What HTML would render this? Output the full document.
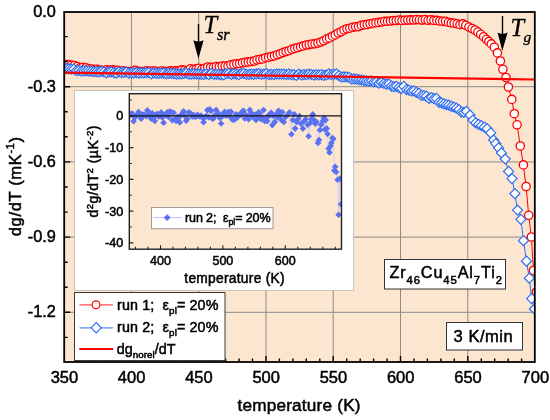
<!DOCTYPE html>
<html><head><meta charset="utf-8"><style>
html,body{margin:0;padding:0;background:#fff;width:550px;height:420px;overflow:hidden}
svg{display:block}
.t{font-family:'Liberation Sans',Arial,Helvetica,sans-serif;fill:#000;stroke:#000;stroke-width:0.5px;white-space:pre}
.s{font-family:'Liberation Serif','Times New Roman',serif;font-style:italic;fill:#000;stroke:#000;stroke-width:0.35px}
</style></head><body>
<svg width="550" height="420" viewBox="0 0 550 420" xml:space="preserve">
<rect x="64.2" y="12.0" width="470.59999999999997" height="350.0" fill="#fce6d0"/>
<line x1="131.4" y1="12.0" x2="131.4" y2="362.0" stroke="#8a8a8a" stroke-width="1"/>
<line x1="198.7" y1="12.0" x2="198.7" y2="362.0" stroke="#8a8a8a" stroke-width="1"/>
<line x1="266.0" y1="12.0" x2="266.0" y2="362.0" stroke="#8a8a8a" stroke-width="1"/>
<line x1="333.2" y1="12.0" x2="333.2" y2="362.0" stroke="#8a8a8a" stroke-width="1"/>
<line x1="400.5" y1="12.0" x2="400.5" y2="362.0" stroke="#8a8a8a" stroke-width="1"/>
<line x1="467.8" y1="12.0" x2="467.8" y2="362.0" stroke="#8a8a8a" stroke-width="1"/>
<line x1="64.2" y1="86.7" x2="534.8" y2="86.7" stroke="#8a8a8a" stroke-width="1"/>
<line x1="64.2" y1="161.9" x2="534.8" y2="161.9" stroke="#8a8a8a" stroke-width="1"/>
<line x1="64.2" y1="237.1" x2="534.8" y2="237.1" stroke="#8a8a8a" stroke-width="1"/>
<line x1="64.2" y1="312.3" x2="534.8" y2="312.3" stroke="#8a8a8a" stroke-width="1"/>
<defs><clipPath id="pc"><rect x="64.2" y="12.0" width="470.6" height="350.0"/></clipPath></defs>
<g clip-path="url(#pc)">
<polyline fill="none" stroke="#ff0000" stroke-width="1" points="59.8,64.0 62.7,64.4 65.6,64.5 68.5,64.6 71.4,65.3 74.3,65.6 77.2,66.6 80.1,67.7 83.0,67.2 85.9,67.7 88.8,68.7 91.7,69.1 94.6,69.5 97.5,69.3 100.4,70.0 103.3,70.6 106.2,69.8 109.1,70.4 112.0,69.9 114.9,70.4 117.8,70.3 120.7,71.2 123.6,70.8 126.5,71.6 129.4,71.6 132.3,71.4 135.2,70.2 138.1,71.2 141.0,71.5 143.9,71.6 146.8,70.7 149.7,71.3 152.6,71.0 155.5,71.1 158.4,72.0 161.3,71.1 164.2,71.4 167.1,71.8 170.0,70.9 172.9,71.0 175.8,70.9 178.7,70.7 181.6,69.9 184.5,70.3 187.4,70.6 190.3,68.8 193.2,69.6 196.1,68.9 199.0,68.3 201.9,69.3 204.8,68.3 207.7,67.1 210.6,67.4 213.5,67.3 216.4,66.6 219.3,66.7 222.2,66.0 225.1,66.0 228.0,66.0 230.9,64.7 233.8,64.4 236.7,63.8 239.6,63.5 242.5,62.7 245.4,62.3 248.3,61.9 251.2,61.5 254.1,61.0 257.0,59.9 259.9,59.3 262.8,58.9 265.7,57.7 268.6,57.2 271.5,56.5 274.4,55.9 277.3,54.8 280.2,53.7 283.1,52.6 286.0,51.5 288.9,50.7 291.8,49.3 294.7,48.4 297.6,47.7 300.5,46.7 303.4,45.9 306.3,45.0 309.2,44.6 312.1,44.0 315.0,43.8 317.9,43.0 320.8,42.0 323.7,40.8 326.6,39.1 329.5,37.9 332.4,36.2 335.3,34.9 338.2,33.0 341.1,31.8 344.0,30.0 346.9,28.8 349.8,28.2 352.7,27.3 355.6,26.8 358.5,26.6 361.4,25.4 364.3,24.8 367.2,24.4 370.1,23.8 373.0,23.2 375.9,22.7 378.8,22.4 381.7,22.0 384.6,21.3 387.5,21.2 390.4,21.0 393.3,20.5 396.2,20.5 399.1,20.1 402.0,20.4 404.9,20.2 407.8,20.1 410.7,19.9 413.6,20.0 416.5,19.6 419.4,19.8 422.3,20.1 425.2,19.6 428.1,20.3 431.0,19.8 433.9,20.4 436.8,20.4 439.7,21.0 442.6,21.2 445.5,21.3 448.4,22.3 451.3,22.9 454.2,23.2 457.1,23.8 460.0,24.7 462.9,23.9 465.7,25.3 468.9,27.1 472.1,28.6 475.0,30.0 477.9,32.1 480.7,34.3 483.6,36.7 486.4,39.3 488.8,41.4 491.3,43.9 494.3,47.2 497.4,52.9 500.4,61.0 502.9,69.3 506.0,77.5 508.4,87.0 511.8,99.4 514.3,113.7 517.1,124.8 520.3,146.0 523.4,164.9 526.1,186.5 528.7,215.3 531.4,237.0 533.5,270.5 536.4,292.0"/>
<circle cx="59.8" cy="64.0" r="4.15" fill="#fff" stroke="#ff0000" stroke-width="1.3"/>
<circle cx="62.7" cy="64.4" r="4.15" fill="#fff" stroke="#ff0000" stroke-width="1.3"/>
<circle cx="65.6" cy="64.5" r="4.15" fill="#fff" stroke="#ff0000" stroke-width="1.3"/>
<circle cx="68.5" cy="64.6" r="4.15" fill="#fff" stroke="#ff0000" stroke-width="1.3"/>
<circle cx="71.4" cy="65.3" r="4.15" fill="#fff" stroke="#ff0000" stroke-width="1.3"/>
<circle cx="74.3" cy="65.6" r="4.15" fill="#fff" stroke="#ff0000" stroke-width="1.3"/>
<circle cx="77.2" cy="66.6" r="4.15" fill="#fff" stroke="#ff0000" stroke-width="1.3"/>
<circle cx="80.1" cy="67.7" r="4.15" fill="#fff" stroke="#ff0000" stroke-width="1.3"/>
<circle cx="83.0" cy="67.2" r="4.15" fill="#fff" stroke="#ff0000" stroke-width="1.3"/>
<circle cx="85.9" cy="67.7" r="4.15" fill="#fff" stroke="#ff0000" stroke-width="1.3"/>
<circle cx="88.8" cy="68.7" r="4.15" fill="#fff" stroke="#ff0000" stroke-width="1.3"/>
<circle cx="91.7" cy="69.1" r="4.15" fill="#fff" stroke="#ff0000" stroke-width="1.3"/>
<circle cx="94.6" cy="69.5" r="4.15" fill="#fff" stroke="#ff0000" stroke-width="1.3"/>
<circle cx="97.5" cy="69.3" r="4.15" fill="#fff" stroke="#ff0000" stroke-width="1.3"/>
<circle cx="100.4" cy="70.0" r="4.15" fill="#fff" stroke="#ff0000" stroke-width="1.3"/>
<circle cx="103.3" cy="70.6" r="4.15" fill="#fff" stroke="#ff0000" stroke-width="1.3"/>
<circle cx="106.2" cy="69.8" r="4.15" fill="#fff" stroke="#ff0000" stroke-width="1.3"/>
<circle cx="109.1" cy="70.4" r="4.15" fill="#fff" stroke="#ff0000" stroke-width="1.3"/>
<circle cx="112.0" cy="69.9" r="4.15" fill="#fff" stroke="#ff0000" stroke-width="1.3"/>
<circle cx="114.9" cy="70.4" r="4.15" fill="#fff" stroke="#ff0000" stroke-width="1.3"/>
<circle cx="117.8" cy="70.3" r="4.15" fill="#fff" stroke="#ff0000" stroke-width="1.3"/>
<circle cx="120.7" cy="71.2" r="4.15" fill="#fff" stroke="#ff0000" stroke-width="1.3"/>
<circle cx="123.6" cy="70.8" r="4.15" fill="#fff" stroke="#ff0000" stroke-width="1.3"/>
<circle cx="126.5" cy="71.6" r="4.15" fill="#fff" stroke="#ff0000" stroke-width="1.3"/>
<circle cx="129.4" cy="71.6" r="4.15" fill="#fff" stroke="#ff0000" stroke-width="1.3"/>
<circle cx="132.3" cy="71.4" r="4.15" fill="#fff" stroke="#ff0000" stroke-width="1.3"/>
<circle cx="135.2" cy="70.2" r="4.15" fill="#fff" stroke="#ff0000" stroke-width="1.3"/>
<circle cx="138.1" cy="71.2" r="4.15" fill="#fff" stroke="#ff0000" stroke-width="1.3"/>
<circle cx="141.0" cy="71.5" r="4.15" fill="#fff" stroke="#ff0000" stroke-width="1.3"/>
<circle cx="143.9" cy="71.6" r="4.15" fill="#fff" stroke="#ff0000" stroke-width="1.3"/>
<circle cx="146.8" cy="70.7" r="4.15" fill="#fff" stroke="#ff0000" stroke-width="1.3"/>
<circle cx="149.7" cy="71.3" r="4.15" fill="#fff" stroke="#ff0000" stroke-width="1.3"/>
<circle cx="152.6" cy="71.0" r="4.15" fill="#fff" stroke="#ff0000" stroke-width="1.3"/>
<circle cx="155.5" cy="71.1" r="4.15" fill="#fff" stroke="#ff0000" stroke-width="1.3"/>
<circle cx="158.4" cy="72.0" r="4.15" fill="#fff" stroke="#ff0000" stroke-width="1.3"/>
<circle cx="161.3" cy="71.1" r="4.15" fill="#fff" stroke="#ff0000" stroke-width="1.3"/>
<circle cx="164.2" cy="71.4" r="4.15" fill="#fff" stroke="#ff0000" stroke-width="1.3"/>
<circle cx="167.1" cy="71.8" r="4.15" fill="#fff" stroke="#ff0000" stroke-width="1.3"/>
<circle cx="170.0" cy="70.9" r="4.15" fill="#fff" stroke="#ff0000" stroke-width="1.3"/>
<circle cx="172.9" cy="71.0" r="4.15" fill="#fff" stroke="#ff0000" stroke-width="1.3"/>
<circle cx="175.8" cy="70.9" r="4.15" fill="#fff" stroke="#ff0000" stroke-width="1.3"/>
<circle cx="178.7" cy="70.7" r="4.15" fill="#fff" stroke="#ff0000" stroke-width="1.3"/>
<circle cx="181.6" cy="69.9" r="4.15" fill="#fff" stroke="#ff0000" stroke-width="1.3"/>
<circle cx="184.5" cy="70.3" r="4.15" fill="#fff" stroke="#ff0000" stroke-width="1.3"/>
<circle cx="187.4" cy="70.6" r="4.15" fill="#fff" stroke="#ff0000" stroke-width="1.3"/>
<circle cx="190.3" cy="68.8" r="4.15" fill="#fff" stroke="#ff0000" stroke-width="1.3"/>
<circle cx="193.2" cy="69.6" r="4.15" fill="#fff" stroke="#ff0000" stroke-width="1.3"/>
<circle cx="196.1" cy="68.9" r="4.15" fill="#fff" stroke="#ff0000" stroke-width="1.3"/>
<circle cx="199.0" cy="68.3" r="4.15" fill="#fff" stroke="#ff0000" stroke-width="1.3"/>
<circle cx="201.9" cy="69.3" r="4.15" fill="#fff" stroke="#ff0000" stroke-width="1.3"/>
<circle cx="204.8" cy="68.3" r="4.15" fill="#fff" stroke="#ff0000" stroke-width="1.3"/>
<circle cx="207.7" cy="67.1" r="4.15" fill="#fff" stroke="#ff0000" stroke-width="1.3"/>
<circle cx="210.6" cy="67.4" r="4.15" fill="#fff" stroke="#ff0000" stroke-width="1.3"/>
<circle cx="213.5" cy="67.3" r="4.15" fill="#fff" stroke="#ff0000" stroke-width="1.3"/>
<circle cx="216.4" cy="66.6" r="4.15" fill="#fff" stroke="#ff0000" stroke-width="1.3"/>
<circle cx="219.3" cy="66.7" r="4.15" fill="#fff" stroke="#ff0000" stroke-width="1.3"/>
<circle cx="222.2" cy="66.0" r="4.15" fill="#fff" stroke="#ff0000" stroke-width="1.3"/>
<circle cx="225.1" cy="66.0" r="4.15" fill="#fff" stroke="#ff0000" stroke-width="1.3"/>
<circle cx="228.0" cy="66.0" r="4.15" fill="#fff" stroke="#ff0000" stroke-width="1.3"/>
<circle cx="230.9" cy="64.7" r="4.15" fill="#fff" stroke="#ff0000" stroke-width="1.3"/>
<circle cx="233.8" cy="64.4" r="4.15" fill="#fff" stroke="#ff0000" stroke-width="1.3"/>
<circle cx="236.7" cy="63.8" r="4.15" fill="#fff" stroke="#ff0000" stroke-width="1.3"/>
<circle cx="239.6" cy="63.5" r="4.15" fill="#fff" stroke="#ff0000" stroke-width="1.3"/>
<circle cx="242.5" cy="62.7" r="4.15" fill="#fff" stroke="#ff0000" stroke-width="1.3"/>
<circle cx="245.4" cy="62.3" r="4.15" fill="#fff" stroke="#ff0000" stroke-width="1.3"/>
<circle cx="248.3" cy="61.9" r="4.15" fill="#fff" stroke="#ff0000" stroke-width="1.3"/>
<circle cx="251.2" cy="61.5" r="4.15" fill="#fff" stroke="#ff0000" stroke-width="1.3"/>
<circle cx="254.1" cy="61.0" r="4.15" fill="#fff" stroke="#ff0000" stroke-width="1.3"/>
<circle cx="257.0" cy="59.9" r="4.15" fill="#fff" stroke="#ff0000" stroke-width="1.3"/>
<circle cx="259.9" cy="59.3" r="4.15" fill="#fff" stroke="#ff0000" stroke-width="1.3"/>
<circle cx="262.8" cy="58.9" r="4.15" fill="#fff" stroke="#ff0000" stroke-width="1.3"/>
<circle cx="265.7" cy="57.7" r="4.15" fill="#fff" stroke="#ff0000" stroke-width="1.3"/>
<circle cx="268.6" cy="57.2" r="4.15" fill="#fff" stroke="#ff0000" stroke-width="1.3"/>
<circle cx="271.5" cy="56.5" r="4.15" fill="#fff" stroke="#ff0000" stroke-width="1.3"/>
<circle cx="274.4" cy="55.9" r="4.15" fill="#fff" stroke="#ff0000" stroke-width="1.3"/>
<circle cx="277.3" cy="54.8" r="4.15" fill="#fff" stroke="#ff0000" stroke-width="1.3"/>
<circle cx="280.2" cy="53.7" r="4.15" fill="#fff" stroke="#ff0000" stroke-width="1.3"/>
<circle cx="283.1" cy="52.6" r="4.15" fill="#fff" stroke="#ff0000" stroke-width="1.3"/>
<circle cx="286.0" cy="51.5" r="4.15" fill="#fff" stroke="#ff0000" stroke-width="1.3"/>
<circle cx="288.9" cy="50.7" r="4.15" fill="#fff" stroke="#ff0000" stroke-width="1.3"/>
<circle cx="291.8" cy="49.3" r="4.15" fill="#fff" stroke="#ff0000" stroke-width="1.3"/>
<circle cx="294.7" cy="48.4" r="4.15" fill="#fff" stroke="#ff0000" stroke-width="1.3"/>
<circle cx="297.6" cy="47.7" r="4.15" fill="#fff" stroke="#ff0000" stroke-width="1.3"/>
<circle cx="300.5" cy="46.7" r="4.15" fill="#fff" stroke="#ff0000" stroke-width="1.3"/>
<circle cx="303.4" cy="45.9" r="4.15" fill="#fff" stroke="#ff0000" stroke-width="1.3"/>
<circle cx="306.3" cy="45.0" r="4.15" fill="#fff" stroke="#ff0000" stroke-width="1.3"/>
<circle cx="309.2" cy="44.6" r="4.15" fill="#fff" stroke="#ff0000" stroke-width="1.3"/>
<circle cx="312.1" cy="44.0" r="4.15" fill="#fff" stroke="#ff0000" stroke-width="1.3"/>
<circle cx="315.0" cy="43.8" r="4.15" fill="#fff" stroke="#ff0000" stroke-width="1.3"/>
<circle cx="317.9" cy="43.0" r="4.15" fill="#fff" stroke="#ff0000" stroke-width="1.3"/>
<circle cx="320.8" cy="42.0" r="4.15" fill="#fff" stroke="#ff0000" stroke-width="1.3"/>
<circle cx="323.7" cy="40.8" r="4.15" fill="#fff" stroke="#ff0000" stroke-width="1.3"/>
<circle cx="326.6" cy="39.1" r="4.15" fill="#fff" stroke="#ff0000" stroke-width="1.3"/>
<circle cx="329.5" cy="37.9" r="4.15" fill="#fff" stroke="#ff0000" stroke-width="1.3"/>
<circle cx="332.4" cy="36.2" r="4.15" fill="#fff" stroke="#ff0000" stroke-width="1.3"/>
<circle cx="335.3" cy="34.9" r="4.15" fill="#fff" stroke="#ff0000" stroke-width="1.3"/>
<circle cx="338.2" cy="33.0" r="4.15" fill="#fff" stroke="#ff0000" stroke-width="1.3"/>
<circle cx="341.1" cy="31.8" r="4.15" fill="#fff" stroke="#ff0000" stroke-width="1.3"/>
<circle cx="344.0" cy="30.0" r="4.15" fill="#fff" stroke="#ff0000" stroke-width="1.3"/>
<circle cx="346.9" cy="28.8" r="4.15" fill="#fff" stroke="#ff0000" stroke-width="1.3"/>
<circle cx="349.8" cy="28.2" r="4.15" fill="#fff" stroke="#ff0000" stroke-width="1.3"/>
<circle cx="352.7" cy="27.3" r="4.15" fill="#fff" stroke="#ff0000" stroke-width="1.3"/>
<circle cx="355.6" cy="26.8" r="4.15" fill="#fff" stroke="#ff0000" stroke-width="1.3"/>
<circle cx="358.5" cy="26.6" r="4.15" fill="#fff" stroke="#ff0000" stroke-width="1.3"/>
<circle cx="361.4" cy="25.4" r="4.15" fill="#fff" stroke="#ff0000" stroke-width="1.3"/>
<circle cx="364.3" cy="24.8" r="4.15" fill="#fff" stroke="#ff0000" stroke-width="1.3"/>
<circle cx="367.2" cy="24.4" r="4.15" fill="#fff" stroke="#ff0000" stroke-width="1.3"/>
<circle cx="370.1" cy="23.8" r="4.15" fill="#fff" stroke="#ff0000" stroke-width="1.3"/>
<circle cx="373.0" cy="23.2" r="4.15" fill="#fff" stroke="#ff0000" stroke-width="1.3"/>
<circle cx="375.9" cy="22.7" r="4.15" fill="#fff" stroke="#ff0000" stroke-width="1.3"/>
<circle cx="378.8" cy="22.4" r="4.15" fill="#fff" stroke="#ff0000" stroke-width="1.3"/>
<circle cx="381.7" cy="22.0" r="4.15" fill="#fff" stroke="#ff0000" stroke-width="1.3"/>
<circle cx="384.6" cy="21.3" r="4.15" fill="#fff" stroke="#ff0000" stroke-width="1.3"/>
<circle cx="387.5" cy="21.2" r="4.15" fill="#fff" stroke="#ff0000" stroke-width="1.3"/>
<circle cx="390.4" cy="21.0" r="4.15" fill="#fff" stroke="#ff0000" stroke-width="1.3"/>
<circle cx="393.3" cy="20.5" r="4.15" fill="#fff" stroke="#ff0000" stroke-width="1.3"/>
<circle cx="396.2" cy="20.5" r="4.15" fill="#fff" stroke="#ff0000" stroke-width="1.3"/>
<circle cx="399.1" cy="20.1" r="4.15" fill="#fff" stroke="#ff0000" stroke-width="1.3"/>
<circle cx="402.0" cy="20.4" r="4.15" fill="#fff" stroke="#ff0000" stroke-width="1.3"/>
<circle cx="404.9" cy="20.2" r="4.15" fill="#fff" stroke="#ff0000" stroke-width="1.3"/>
<circle cx="407.8" cy="20.1" r="4.15" fill="#fff" stroke="#ff0000" stroke-width="1.3"/>
<circle cx="410.7" cy="19.9" r="4.15" fill="#fff" stroke="#ff0000" stroke-width="1.3"/>
<circle cx="413.6" cy="20.0" r="4.15" fill="#fff" stroke="#ff0000" stroke-width="1.3"/>
<circle cx="416.5" cy="19.6" r="4.15" fill="#fff" stroke="#ff0000" stroke-width="1.3"/>
<circle cx="419.4" cy="19.8" r="4.15" fill="#fff" stroke="#ff0000" stroke-width="1.3"/>
<circle cx="422.3" cy="20.1" r="4.15" fill="#fff" stroke="#ff0000" stroke-width="1.3"/>
<circle cx="425.2" cy="19.6" r="4.15" fill="#fff" stroke="#ff0000" stroke-width="1.3"/>
<circle cx="428.1" cy="20.3" r="4.15" fill="#fff" stroke="#ff0000" stroke-width="1.3"/>
<circle cx="431.0" cy="19.8" r="4.15" fill="#fff" stroke="#ff0000" stroke-width="1.3"/>
<circle cx="433.9" cy="20.4" r="4.15" fill="#fff" stroke="#ff0000" stroke-width="1.3"/>
<circle cx="436.8" cy="20.4" r="4.15" fill="#fff" stroke="#ff0000" stroke-width="1.3"/>
<circle cx="439.7" cy="21.0" r="4.15" fill="#fff" stroke="#ff0000" stroke-width="1.3"/>
<circle cx="442.6" cy="21.2" r="4.15" fill="#fff" stroke="#ff0000" stroke-width="1.3"/>
<circle cx="445.5" cy="21.3" r="4.15" fill="#fff" stroke="#ff0000" stroke-width="1.3"/>
<circle cx="448.4" cy="22.3" r="4.15" fill="#fff" stroke="#ff0000" stroke-width="1.3"/>
<circle cx="451.3" cy="22.9" r="4.15" fill="#fff" stroke="#ff0000" stroke-width="1.3"/>
<circle cx="454.2" cy="23.2" r="4.15" fill="#fff" stroke="#ff0000" stroke-width="1.3"/>
<circle cx="457.1" cy="23.8" r="4.15" fill="#fff" stroke="#ff0000" stroke-width="1.3"/>
<circle cx="460.0" cy="24.7" r="4.15" fill="#fff" stroke="#ff0000" stroke-width="1.3"/>
<circle cx="462.9" cy="23.9" r="4.15" fill="#fff" stroke="#ff0000" stroke-width="1.3"/>
<circle cx="465.7" cy="25.3" r="4.15" fill="#fff" stroke="#ff0000" stroke-width="1.3"/>
<circle cx="468.9" cy="27.1" r="4.15" fill="#fff" stroke="#ff0000" stroke-width="1.3"/>
<circle cx="472.1" cy="28.6" r="4.15" fill="#fff" stroke="#ff0000" stroke-width="1.3"/>
<circle cx="475.0" cy="30.0" r="4.15" fill="#fff" stroke="#ff0000" stroke-width="1.3"/>
<circle cx="477.9" cy="32.1" r="4.15" fill="#fff" stroke="#ff0000" stroke-width="1.3"/>
<circle cx="480.7" cy="34.3" r="4.15" fill="#fff" stroke="#ff0000" stroke-width="1.3"/>
<circle cx="483.6" cy="36.7" r="4.15" fill="#fff" stroke="#ff0000" stroke-width="1.3"/>
<circle cx="486.4" cy="39.3" r="4.15" fill="#fff" stroke="#ff0000" stroke-width="1.3"/>
<circle cx="488.8" cy="41.4" r="4.15" fill="#fff" stroke="#ff0000" stroke-width="1.3"/>
<circle cx="491.3" cy="43.9" r="4.15" fill="#fff" stroke="#ff0000" stroke-width="1.3"/>
<circle cx="494.3" cy="47.2" r="4.15" fill="#fff" stroke="#ff0000" stroke-width="1.3"/>
<circle cx="497.4" cy="52.9" r="4.15" fill="#fff" stroke="#ff0000" stroke-width="1.3"/>
<circle cx="500.4" cy="61.0" r="4.15" fill="#fff" stroke="#ff0000" stroke-width="1.3"/>
<circle cx="502.9" cy="69.3" r="4.15" fill="#fff" stroke="#ff0000" stroke-width="1.3"/>
<circle cx="506.0" cy="77.5" r="4.15" fill="#fff" stroke="#ff0000" stroke-width="1.3"/>
<circle cx="508.4" cy="87.0" r="4.15" fill="#fff" stroke="#ff0000" stroke-width="1.3"/>
<circle cx="511.8" cy="99.4" r="4.15" fill="#fff" stroke="#ff0000" stroke-width="1.3"/>
<circle cx="514.3" cy="113.7" r="4.15" fill="#fff" stroke="#ff0000" stroke-width="1.3"/>
<circle cx="517.1" cy="124.8" r="4.15" fill="#fff" stroke="#ff0000" stroke-width="1.3"/>
<circle cx="520.3" cy="146.0" r="4.15" fill="#fff" stroke="#ff0000" stroke-width="1.3"/>
<circle cx="523.4" cy="164.9" r="4.15" fill="#fff" stroke="#ff0000" stroke-width="1.3"/>
<circle cx="526.1" cy="186.5" r="4.15" fill="#fff" stroke="#ff0000" stroke-width="1.3"/>
<circle cx="528.7" cy="215.3" r="4.15" fill="#fff" stroke="#ff0000" stroke-width="1.3"/>
<circle cx="531.4" cy="237.0" r="4.15" fill="#fff" stroke="#ff0000" stroke-width="1.3"/>
<circle cx="533.5" cy="270.5" r="4.15" fill="#fff" stroke="#ff0000" stroke-width="1.3"/>
<circle cx="536.4" cy="292.0" r="4.15" fill="#fff" stroke="#ff0000" stroke-width="1.3"/>
<polyline fill="none" stroke="#2f6cf0" stroke-width="1" points="58.9,66.8 61.4,68.3 63.9,68.1 66.4,68.7 68.9,68.8 71.4,69.2 73.9,69.2 76.4,70.7 78.9,70.3 81.4,71.1 83.9,70.9 86.4,70.8 88.9,71.2 91.4,71.3 93.9,71.7 96.4,71.7 98.9,71.8 101.4,71.4 103.9,71.8 106.4,73.0 108.9,72.0 111.4,71.9 113.9,72.6 116.4,73.2 118.9,71.9 121.4,72.6 123.9,72.4 126.4,72.0 128.9,73.1 131.4,72.9 133.9,72.9 136.4,72.6 138.9,73.2 141.4,72.8 143.9,73.0 146.4,72.6 148.9,72.6 151.4,73.8 153.9,73.0 156.4,73.4 158.9,73.3 161.4,73.2 163.9,73.2 166.4,73.8 168.9,73.4 171.4,73.5 173.9,73.6 176.4,74.1 178.9,74.0 181.4,73.9 183.9,73.5 186.4,73.1 188.9,74.2 191.4,74.2 193.9,73.8 196.4,74.1 198.9,74.2 201.4,74.3 203.9,74.4 206.4,73.8 208.9,74.7 211.4,73.4 213.9,74.4 216.4,74.3 218.9,74.5 221.4,74.9 223.9,74.8 226.4,73.6 228.9,73.4 231.4,74.5 233.9,73.7 236.4,74.2 238.9,74.6 241.4,73.5 243.9,73.3 246.4,74.4 248.9,74.3 251.4,74.2 253.9,74.3 256.4,73.9 258.9,73.7 261.4,74.3 263.9,74.0 266.4,73.7 268.9,74.7 271.4,74.4 273.9,74.6 276.4,74.0 278.9,74.2 281.4,74.1 283.9,74.1 286.4,74.6 288.9,74.2 291.4,74.7 293.9,74.7 296.4,75.5 298.9,74.0 301.4,75.0 303.9,74.6 306.4,74.7 308.9,74.0 311.4,74.5 313.9,75.1 316.4,74.7 318.9,74.8 321.4,74.7 323.9,75.4 326.4,74.9 328.9,73.9 331.4,74.7 333.9,74.3 336.4,73.9 338.9,75.6 341.4,77.0 343.9,76.9 346.4,76.8 348.9,77.4 351.4,78.9 353.9,78.9 356.4,79.2 358.9,79.6 361.4,80.0 363.9,80.7 366.4,80.9 368.9,81.1 371.4,80.9 373.9,82.0 376.4,81.8 378.9,83.2 381.4,82.4 383.9,83.5 386.4,84.1 388.9,84.0 391.4,86.2 393.9,86.7 396.4,86.4 398.9,87.7 401.4,88.3 403.9,86.3 406.4,89.6 408.9,90.1 411.4,91.0 413.9,90.8 416.4,92.3 418.9,93.3 421.4,95.4 423.9,95.5 426.4,96.1 428.9,98.4 431.4,97.5 433.9,98.6 436.4,98.3 438.9,102.3 441.4,102.8 443.9,103.8 446.4,104.7 448.9,105.2 451.4,106.3 453.9,107.0 456.4,108.2 458.9,109.6 461.4,112.1 463.9,112.4 466.4,111.4 470.0,115.0 472.9,120.0 475.7,122.9 478.6,124.3 481.4,125.7 484.3,127.1 487.1,128.6 490.7,132.9 493.6,140.0 495.7,143.6 498.6,147.9 501.4,152.9 505.2,159.0 508.6,171.4 512.0,178.6 514.9,193.7 517.5,210.1 520.9,219.3 523.5,240.7 526.5,261.2 529.3,278.2 531.6,298.6 534.4,309.0"/>
<path d="M53.9,66.8L58.9,61.8L63.9,66.8L58.9,71.8Z" fill="#fff" stroke="#2f6cf0" stroke-width="1.2"/>
<path d="M56.4,68.3L61.4,63.3L66.4,68.3L61.4,73.3Z" fill="#fff" stroke="#2f6cf0" stroke-width="1.2"/>
<path d="M58.9,68.1L63.9,63.1L68.9,68.1L63.9,73.1Z" fill="#fff" stroke="#2f6cf0" stroke-width="1.2"/>
<path d="M61.4,68.7L66.4,63.7L71.4,68.7L66.4,73.7Z" fill="#fff" stroke="#2f6cf0" stroke-width="1.2"/>
<path d="M63.9,68.8L68.9,63.8L73.9,68.8L68.9,73.8Z" fill="#fff" stroke="#2f6cf0" stroke-width="1.2"/>
<path d="M66.4,69.2L71.4,64.2L76.4,69.2L71.4,74.2Z" fill="#fff" stroke="#2f6cf0" stroke-width="1.2"/>
<path d="M68.9,69.2L73.9,64.2L78.9,69.2L73.9,74.2Z" fill="#fff" stroke="#2f6cf0" stroke-width="1.2"/>
<path d="M71.4,70.7L76.4,65.7L81.4,70.7L76.4,75.7Z" fill="#fff" stroke="#2f6cf0" stroke-width="1.2"/>
<path d="M73.9,70.3L78.9,65.3L83.9,70.3L78.9,75.3Z" fill="#fff" stroke="#2f6cf0" stroke-width="1.2"/>
<path d="M76.4,71.1L81.4,66.1L86.4,71.1L81.4,76.1Z" fill="#fff" stroke="#2f6cf0" stroke-width="1.2"/>
<path d="M78.9,70.9L83.9,65.9L88.9,70.9L83.9,75.9Z" fill="#fff" stroke="#2f6cf0" stroke-width="1.2"/>
<path d="M81.4,70.8L86.4,65.8L91.4,70.8L86.4,75.8Z" fill="#fff" stroke="#2f6cf0" stroke-width="1.2"/>
<path d="M83.9,71.2L88.9,66.2L93.9,71.2L88.9,76.2Z" fill="#fff" stroke="#2f6cf0" stroke-width="1.2"/>
<path d="M86.4,71.3L91.4,66.3L96.4,71.3L91.4,76.3Z" fill="#fff" stroke="#2f6cf0" stroke-width="1.2"/>
<path d="M88.9,71.7L93.9,66.7L98.9,71.7L93.9,76.7Z" fill="#fff" stroke="#2f6cf0" stroke-width="1.2"/>
<path d="M91.4,71.7L96.4,66.7L101.4,71.7L96.4,76.7Z" fill="#fff" stroke="#2f6cf0" stroke-width="1.2"/>
<path d="M93.9,71.8L98.9,66.8L103.9,71.8L98.9,76.8Z" fill="#fff" stroke="#2f6cf0" stroke-width="1.2"/>
<path d="M96.4,71.4L101.4,66.4L106.4,71.4L101.4,76.4Z" fill="#fff" stroke="#2f6cf0" stroke-width="1.2"/>
<path d="M98.9,71.8L103.9,66.8L108.9,71.8L103.9,76.8Z" fill="#fff" stroke="#2f6cf0" stroke-width="1.2"/>
<path d="M101.4,73.0L106.4,68.0L111.4,73.0L106.4,78.0Z" fill="#fff" stroke="#2f6cf0" stroke-width="1.2"/>
<path d="M103.9,72.0L108.9,67.0L113.9,72.0L108.9,77.0Z" fill="#fff" stroke="#2f6cf0" stroke-width="1.2"/>
<path d="M106.4,71.9L111.4,66.9L116.4,71.9L111.4,76.9Z" fill="#fff" stroke="#2f6cf0" stroke-width="1.2"/>
<path d="M108.9,72.6L113.9,67.6L118.9,72.6L113.9,77.6Z" fill="#fff" stroke="#2f6cf0" stroke-width="1.2"/>
<path d="M111.4,73.2L116.4,68.2L121.4,73.2L116.4,78.2Z" fill="#fff" stroke="#2f6cf0" stroke-width="1.2"/>
<path d="M113.9,71.9L118.9,66.9L123.9,71.9L118.9,76.9Z" fill="#fff" stroke="#2f6cf0" stroke-width="1.2"/>
<path d="M116.4,72.6L121.4,67.6L126.4,72.6L121.4,77.6Z" fill="#fff" stroke="#2f6cf0" stroke-width="1.2"/>
<path d="M118.9,72.4L123.9,67.4L128.9,72.4L123.9,77.4Z" fill="#fff" stroke="#2f6cf0" stroke-width="1.2"/>
<path d="M121.4,72.0L126.4,67.0L131.4,72.0L126.4,77.0Z" fill="#fff" stroke="#2f6cf0" stroke-width="1.2"/>
<path d="M123.9,73.1L128.9,68.1L133.9,73.1L128.9,78.1Z" fill="#fff" stroke="#2f6cf0" stroke-width="1.2"/>
<path d="M126.4,72.9L131.4,67.9L136.4,72.9L131.4,77.9Z" fill="#fff" stroke="#2f6cf0" stroke-width="1.2"/>
<path d="M128.9,72.9L133.9,67.9L138.9,72.9L133.9,77.9Z" fill="#fff" stroke="#2f6cf0" stroke-width="1.2"/>
<path d="M131.4,72.6L136.4,67.6L141.4,72.6L136.4,77.6Z" fill="#fff" stroke="#2f6cf0" stroke-width="1.2"/>
<path d="M133.9,73.2L138.9,68.2L143.9,73.2L138.9,78.2Z" fill="#fff" stroke="#2f6cf0" stroke-width="1.2"/>
<path d="M136.4,72.8L141.4,67.8L146.4,72.8L141.4,77.8Z" fill="#fff" stroke="#2f6cf0" stroke-width="1.2"/>
<path d="M138.9,73.0L143.9,68.0L148.9,73.0L143.9,78.0Z" fill="#fff" stroke="#2f6cf0" stroke-width="1.2"/>
<path d="M141.4,72.6L146.4,67.6L151.4,72.6L146.4,77.6Z" fill="#fff" stroke="#2f6cf0" stroke-width="1.2"/>
<path d="M143.9,72.6L148.9,67.6L153.9,72.6L148.9,77.6Z" fill="#fff" stroke="#2f6cf0" stroke-width="1.2"/>
<path d="M146.4,73.8L151.4,68.8L156.4,73.8L151.4,78.8Z" fill="#fff" stroke="#2f6cf0" stroke-width="1.2"/>
<path d="M148.9,73.0L153.9,68.0L158.9,73.0L153.9,78.0Z" fill="#fff" stroke="#2f6cf0" stroke-width="1.2"/>
<path d="M151.4,73.4L156.4,68.4L161.4,73.4L156.4,78.4Z" fill="#fff" stroke="#2f6cf0" stroke-width="1.2"/>
<path d="M153.9,73.3L158.9,68.3L163.9,73.3L158.9,78.3Z" fill="#fff" stroke="#2f6cf0" stroke-width="1.2"/>
<path d="M156.4,73.2L161.4,68.2L166.4,73.2L161.4,78.2Z" fill="#fff" stroke="#2f6cf0" stroke-width="1.2"/>
<path d="M158.9,73.2L163.9,68.2L168.9,73.2L163.9,78.2Z" fill="#fff" stroke="#2f6cf0" stroke-width="1.2"/>
<path d="M161.4,73.8L166.4,68.8L171.4,73.8L166.4,78.8Z" fill="#fff" stroke="#2f6cf0" stroke-width="1.2"/>
<path d="M163.9,73.4L168.9,68.4L173.9,73.4L168.9,78.4Z" fill="#fff" stroke="#2f6cf0" stroke-width="1.2"/>
<path d="M166.4,73.5L171.4,68.5L176.4,73.5L171.4,78.5Z" fill="#fff" stroke="#2f6cf0" stroke-width="1.2"/>
<path d="M168.9,73.6L173.9,68.6L178.9,73.6L173.9,78.6Z" fill="#fff" stroke="#2f6cf0" stroke-width="1.2"/>
<path d="M171.4,74.1L176.4,69.1L181.4,74.1L176.4,79.1Z" fill="#fff" stroke="#2f6cf0" stroke-width="1.2"/>
<path d="M173.9,74.0L178.9,69.0L183.9,74.0L178.9,79.0Z" fill="#fff" stroke="#2f6cf0" stroke-width="1.2"/>
<path d="M176.4,73.9L181.4,68.9L186.4,73.9L181.4,78.9Z" fill="#fff" stroke="#2f6cf0" stroke-width="1.2"/>
<path d="M178.9,73.5L183.9,68.5L188.9,73.5L183.9,78.5Z" fill="#fff" stroke="#2f6cf0" stroke-width="1.2"/>
<path d="M181.4,73.1L186.4,68.1L191.4,73.1L186.4,78.1Z" fill="#fff" stroke="#2f6cf0" stroke-width="1.2"/>
<path d="M183.9,74.2L188.9,69.2L193.9,74.2L188.9,79.2Z" fill="#fff" stroke="#2f6cf0" stroke-width="1.2"/>
<path d="M186.4,74.2L191.4,69.2L196.4,74.2L191.4,79.2Z" fill="#fff" stroke="#2f6cf0" stroke-width="1.2"/>
<path d="M188.9,73.8L193.9,68.8L198.9,73.8L193.9,78.8Z" fill="#fff" stroke="#2f6cf0" stroke-width="1.2"/>
<path d="M191.4,74.1L196.4,69.1L201.4,74.1L196.4,79.1Z" fill="#fff" stroke="#2f6cf0" stroke-width="1.2"/>
<path d="M193.9,74.2L198.9,69.2L203.9,74.2L198.9,79.2Z" fill="#fff" stroke="#2f6cf0" stroke-width="1.2"/>
<path d="M196.4,74.3L201.4,69.3L206.4,74.3L201.4,79.3Z" fill="#fff" stroke="#2f6cf0" stroke-width="1.2"/>
<path d="M198.9,74.4L203.9,69.4L208.9,74.4L203.9,79.4Z" fill="#fff" stroke="#2f6cf0" stroke-width="1.2"/>
<path d="M201.4,73.8L206.4,68.8L211.4,73.8L206.4,78.8Z" fill="#fff" stroke="#2f6cf0" stroke-width="1.2"/>
<path d="M203.9,74.7L208.9,69.7L213.9,74.7L208.9,79.7Z" fill="#fff" stroke="#2f6cf0" stroke-width="1.2"/>
<path d="M206.4,73.4L211.4,68.4L216.4,73.4L211.4,78.4Z" fill="#fff" stroke="#2f6cf0" stroke-width="1.2"/>
<path d="M208.9,74.4L213.9,69.4L218.9,74.4L213.9,79.4Z" fill="#fff" stroke="#2f6cf0" stroke-width="1.2"/>
<path d="M211.4,74.3L216.4,69.3L221.4,74.3L216.4,79.3Z" fill="#fff" stroke="#2f6cf0" stroke-width="1.2"/>
<path d="M213.9,74.5L218.9,69.5L223.9,74.5L218.9,79.5Z" fill="#fff" stroke="#2f6cf0" stroke-width="1.2"/>
<path d="M216.4,74.9L221.4,69.9L226.4,74.9L221.4,79.9Z" fill="#fff" stroke="#2f6cf0" stroke-width="1.2"/>
<path d="M218.9,74.8L223.9,69.8L228.9,74.8L223.9,79.8Z" fill="#fff" stroke="#2f6cf0" stroke-width="1.2"/>
<path d="M221.4,73.6L226.4,68.6L231.4,73.6L226.4,78.6Z" fill="#fff" stroke="#2f6cf0" stroke-width="1.2"/>
<path d="M223.9,73.4L228.9,68.4L233.9,73.4L228.9,78.4Z" fill="#fff" stroke="#2f6cf0" stroke-width="1.2"/>
<path d="M226.4,74.5L231.4,69.5L236.4,74.5L231.4,79.5Z" fill="#fff" stroke="#2f6cf0" stroke-width="1.2"/>
<path d="M228.9,73.7L233.9,68.7L238.9,73.7L233.9,78.7Z" fill="#fff" stroke="#2f6cf0" stroke-width="1.2"/>
<path d="M231.4,74.2L236.4,69.2L241.4,74.2L236.4,79.2Z" fill="#fff" stroke="#2f6cf0" stroke-width="1.2"/>
<path d="M233.9,74.6L238.9,69.6L243.9,74.6L238.9,79.6Z" fill="#fff" stroke="#2f6cf0" stroke-width="1.2"/>
<path d="M236.4,73.5L241.4,68.5L246.4,73.5L241.4,78.5Z" fill="#fff" stroke="#2f6cf0" stroke-width="1.2"/>
<path d="M238.9,73.3L243.9,68.3L248.9,73.3L243.9,78.3Z" fill="#fff" stroke="#2f6cf0" stroke-width="1.2"/>
<path d="M241.4,74.4L246.4,69.4L251.4,74.4L246.4,79.4Z" fill="#fff" stroke="#2f6cf0" stroke-width="1.2"/>
<path d="M243.9,74.3L248.9,69.3L253.9,74.3L248.9,79.3Z" fill="#fff" stroke="#2f6cf0" stroke-width="1.2"/>
<path d="M246.4,74.2L251.4,69.2L256.4,74.2L251.4,79.2Z" fill="#fff" stroke="#2f6cf0" stroke-width="1.2"/>
<path d="M248.9,74.3L253.9,69.3L258.9,74.3L253.9,79.3Z" fill="#fff" stroke="#2f6cf0" stroke-width="1.2"/>
<path d="M251.4,73.9L256.4,68.9L261.4,73.9L256.4,78.9Z" fill="#fff" stroke="#2f6cf0" stroke-width="1.2"/>
<path d="M253.9,73.7L258.9,68.7L263.9,73.7L258.9,78.7Z" fill="#fff" stroke="#2f6cf0" stroke-width="1.2"/>
<path d="M256.4,74.3L261.4,69.3L266.4,74.3L261.4,79.3Z" fill="#fff" stroke="#2f6cf0" stroke-width="1.2"/>
<path d="M258.9,74.0L263.9,69.0L268.9,74.0L263.9,79.0Z" fill="#fff" stroke="#2f6cf0" stroke-width="1.2"/>
<path d="M261.4,73.7L266.4,68.7L271.4,73.7L266.4,78.7Z" fill="#fff" stroke="#2f6cf0" stroke-width="1.2"/>
<path d="M263.9,74.7L268.9,69.7L273.9,74.7L268.9,79.7Z" fill="#fff" stroke="#2f6cf0" stroke-width="1.2"/>
<path d="M266.4,74.4L271.4,69.4L276.4,74.4L271.4,79.4Z" fill="#fff" stroke="#2f6cf0" stroke-width="1.2"/>
<path d="M268.9,74.6L273.9,69.6L278.9,74.6L273.9,79.6Z" fill="#fff" stroke="#2f6cf0" stroke-width="1.2"/>
<path d="M271.4,74.0L276.4,69.0L281.4,74.0L276.4,79.0Z" fill="#fff" stroke="#2f6cf0" stroke-width="1.2"/>
<path d="M273.9,74.2L278.9,69.2L283.9,74.2L278.9,79.2Z" fill="#fff" stroke="#2f6cf0" stroke-width="1.2"/>
<path d="M276.4,74.1L281.4,69.1L286.4,74.1L281.4,79.1Z" fill="#fff" stroke="#2f6cf0" stroke-width="1.2"/>
<path d="M278.9,74.1L283.9,69.1L288.9,74.1L283.9,79.1Z" fill="#fff" stroke="#2f6cf0" stroke-width="1.2"/>
<path d="M281.4,74.6L286.4,69.6L291.4,74.6L286.4,79.6Z" fill="#fff" stroke="#2f6cf0" stroke-width="1.2"/>
<path d="M283.9,74.2L288.9,69.2L293.9,74.2L288.9,79.2Z" fill="#fff" stroke="#2f6cf0" stroke-width="1.2"/>
<path d="M286.4,74.7L291.4,69.7L296.4,74.7L291.4,79.7Z" fill="#fff" stroke="#2f6cf0" stroke-width="1.2"/>
<path d="M288.9,74.7L293.9,69.7L298.9,74.7L293.9,79.7Z" fill="#fff" stroke="#2f6cf0" stroke-width="1.2"/>
<path d="M291.4,75.5L296.4,70.5L301.4,75.5L296.4,80.5Z" fill="#fff" stroke="#2f6cf0" stroke-width="1.2"/>
<path d="M293.9,74.0L298.9,69.0L303.9,74.0L298.9,79.0Z" fill="#fff" stroke="#2f6cf0" stroke-width="1.2"/>
<path d="M296.4,75.0L301.4,70.0L306.4,75.0L301.4,80.0Z" fill="#fff" stroke="#2f6cf0" stroke-width="1.2"/>
<path d="M298.9,74.6L303.9,69.6L308.9,74.6L303.9,79.6Z" fill="#fff" stroke="#2f6cf0" stroke-width="1.2"/>
<path d="M301.4,74.7L306.4,69.7L311.4,74.7L306.4,79.7Z" fill="#fff" stroke="#2f6cf0" stroke-width="1.2"/>
<path d="M303.9,74.0L308.9,69.0L313.9,74.0L308.9,79.0Z" fill="#fff" stroke="#2f6cf0" stroke-width="1.2"/>
<path d="M306.4,74.5L311.4,69.5L316.4,74.5L311.4,79.5Z" fill="#fff" stroke="#2f6cf0" stroke-width="1.2"/>
<path d="M308.9,75.1L313.9,70.1L318.9,75.1L313.9,80.1Z" fill="#fff" stroke="#2f6cf0" stroke-width="1.2"/>
<path d="M311.4,74.7L316.4,69.7L321.4,74.7L316.4,79.7Z" fill="#fff" stroke="#2f6cf0" stroke-width="1.2"/>
<path d="M313.9,74.8L318.9,69.8L323.9,74.8L318.9,79.8Z" fill="#fff" stroke="#2f6cf0" stroke-width="1.2"/>
<path d="M316.4,74.7L321.4,69.7L326.4,74.7L321.4,79.7Z" fill="#fff" stroke="#2f6cf0" stroke-width="1.2"/>
<path d="M318.9,75.4L323.9,70.4L328.9,75.4L323.9,80.4Z" fill="#fff" stroke="#2f6cf0" stroke-width="1.2"/>
<path d="M321.4,74.9L326.4,69.9L331.4,74.9L326.4,79.9Z" fill="#fff" stroke="#2f6cf0" stroke-width="1.2"/>
<path d="M323.9,73.9L328.9,68.9L333.9,73.9L328.9,78.9Z" fill="#fff" stroke="#2f6cf0" stroke-width="1.2"/>
<path d="M326.4,74.7L331.4,69.7L336.4,74.7L331.4,79.7Z" fill="#fff" stroke="#2f6cf0" stroke-width="1.2"/>
<path d="M328.9,74.3L333.9,69.3L338.9,74.3L333.9,79.3Z" fill="#fff" stroke="#2f6cf0" stroke-width="1.2"/>
<path d="M331.4,73.9L336.4,68.9L341.4,73.9L336.4,78.9Z" fill="#fff" stroke="#2f6cf0" stroke-width="1.2"/>
<path d="M333.9,75.6L338.9,70.6L343.9,75.6L338.9,80.6Z" fill="#fff" stroke="#2f6cf0" stroke-width="1.2"/>
<path d="M336.4,77.0L341.4,72.0L346.4,77.0L341.4,82.0Z" fill="#fff" stroke="#2f6cf0" stroke-width="1.2"/>
<path d="M338.9,76.9L343.9,71.9L348.9,76.9L343.9,81.9Z" fill="#fff" stroke="#2f6cf0" stroke-width="1.2"/>
<path d="M341.4,76.8L346.4,71.8L351.4,76.8L346.4,81.8Z" fill="#fff" stroke="#2f6cf0" stroke-width="1.2"/>
<path d="M343.9,77.4L348.9,72.4L353.9,77.4L348.9,82.4Z" fill="#fff" stroke="#2f6cf0" stroke-width="1.2"/>
<path d="M346.4,78.9L351.4,73.9L356.4,78.9L351.4,83.9Z" fill="#fff" stroke="#2f6cf0" stroke-width="1.2"/>
<path d="M348.9,78.9L353.9,73.9L358.9,78.9L353.9,83.9Z" fill="#fff" stroke="#2f6cf0" stroke-width="1.2"/>
<path d="M351.4,79.2L356.4,74.2L361.4,79.2L356.4,84.2Z" fill="#fff" stroke="#2f6cf0" stroke-width="1.2"/>
<path d="M353.9,79.6L358.9,74.6L363.9,79.6L358.9,84.6Z" fill="#fff" stroke="#2f6cf0" stroke-width="1.2"/>
<path d="M356.4,80.0L361.4,75.0L366.4,80.0L361.4,85.0Z" fill="#fff" stroke="#2f6cf0" stroke-width="1.2"/>
<path d="M358.9,80.7L363.9,75.7L368.9,80.7L363.9,85.7Z" fill="#fff" stroke="#2f6cf0" stroke-width="1.2"/>
<path d="M361.4,80.9L366.4,75.9L371.4,80.9L366.4,85.9Z" fill="#fff" stroke="#2f6cf0" stroke-width="1.2"/>
<path d="M363.9,81.1L368.9,76.1L373.9,81.1L368.9,86.1Z" fill="#fff" stroke="#2f6cf0" stroke-width="1.2"/>
<path d="M366.4,80.9L371.4,75.9L376.4,80.9L371.4,85.9Z" fill="#fff" stroke="#2f6cf0" stroke-width="1.2"/>
<path d="M368.9,82.0L373.9,77.0L378.9,82.0L373.9,87.0Z" fill="#fff" stroke="#2f6cf0" stroke-width="1.2"/>
<path d="M371.4,81.8L376.4,76.8L381.4,81.8L376.4,86.8Z" fill="#fff" stroke="#2f6cf0" stroke-width="1.2"/>
<path d="M373.9,83.2L378.9,78.2L383.9,83.2L378.9,88.2Z" fill="#fff" stroke="#2f6cf0" stroke-width="1.2"/>
<path d="M376.4,82.4L381.4,77.4L386.4,82.4L381.4,87.4Z" fill="#fff" stroke="#2f6cf0" stroke-width="1.2"/>
<path d="M378.9,83.5L383.9,78.5L388.9,83.5L383.9,88.5Z" fill="#fff" stroke="#2f6cf0" stroke-width="1.2"/>
<path d="M381.4,84.1L386.4,79.1L391.4,84.1L386.4,89.1Z" fill="#fff" stroke="#2f6cf0" stroke-width="1.2"/>
<path d="M383.9,84.0L388.9,79.0L393.9,84.0L388.9,89.0Z" fill="#fff" stroke="#2f6cf0" stroke-width="1.2"/>
<path d="M386.4,86.2L391.4,81.2L396.4,86.2L391.4,91.2Z" fill="#fff" stroke="#2f6cf0" stroke-width="1.2"/>
<path d="M388.9,86.7L393.9,81.7L398.9,86.7L393.9,91.7Z" fill="#fff" stroke="#2f6cf0" stroke-width="1.2"/>
<path d="M391.4,86.4L396.4,81.4L401.4,86.4L396.4,91.4Z" fill="#fff" stroke="#2f6cf0" stroke-width="1.2"/>
<path d="M393.9,87.7L398.9,82.7L403.9,87.7L398.9,92.7Z" fill="#fff" stroke="#2f6cf0" stroke-width="1.2"/>
<path d="M396.4,88.3L401.4,83.3L406.4,88.3L401.4,93.3Z" fill="#fff" stroke="#2f6cf0" stroke-width="1.2"/>
<path d="M398.9,86.3L403.9,81.3L408.9,86.3L403.9,91.3Z" fill="#fff" stroke="#2f6cf0" stroke-width="1.2"/>
<path d="M401.4,89.6L406.4,84.6L411.4,89.6L406.4,94.6Z" fill="#fff" stroke="#2f6cf0" stroke-width="1.2"/>
<path d="M403.9,90.1L408.9,85.1L413.9,90.1L408.9,95.1Z" fill="#fff" stroke="#2f6cf0" stroke-width="1.2"/>
<path d="M406.4,91.0L411.4,86.0L416.4,91.0L411.4,96.0Z" fill="#fff" stroke="#2f6cf0" stroke-width="1.2"/>
<path d="M408.9,90.8L413.9,85.8L418.9,90.8L413.9,95.8Z" fill="#fff" stroke="#2f6cf0" stroke-width="1.2"/>
<path d="M411.4,92.3L416.4,87.3L421.4,92.3L416.4,97.3Z" fill="#fff" stroke="#2f6cf0" stroke-width="1.2"/>
<path d="M413.9,93.3L418.9,88.3L423.9,93.3L418.9,98.3Z" fill="#fff" stroke="#2f6cf0" stroke-width="1.2"/>
<path d="M416.4,95.4L421.4,90.4L426.4,95.4L421.4,100.4Z" fill="#fff" stroke="#2f6cf0" stroke-width="1.2"/>
<path d="M418.9,95.5L423.9,90.5L428.9,95.5L423.9,100.5Z" fill="#fff" stroke="#2f6cf0" stroke-width="1.2"/>
<path d="M421.4,96.1L426.4,91.1L431.4,96.1L426.4,101.1Z" fill="#fff" stroke="#2f6cf0" stroke-width="1.2"/>
<path d="M423.9,98.4L428.9,93.4L433.9,98.4L428.9,103.4Z" fill="#fff" stroke="#2f6cf0" stroke-width="1.2"/>
<path d="M426.4,97.5L431.4,92.5L436.4,97.5L431.4,102.5Z" fill="#fff" stroke="#2f6cf0" stroke-width="1.2"/>
<path d="M428.9,98.6L433.9,93.6L438.9,98.6L433.9,103.6Z" fill="#fff" stroke="#2f6cf0" stroke-width="1.2"/>
<path d="M431.4,98.3L436.4,93.3L441.4,98.3L436.4,103.3Z" fill="#fff" stroke="#2f6cf0" stroke-width="1.2"/>
<path d="M433.9,102.3L438.9,97.3L443.9,102.3L438.9,107.3Z" fill="#fff" stroke="#2f6cf0" stroke-width="1.2"/>
<path d="M436.4,102.8L441.4,97.8L446.4,102.8L441.4,107.8Z" fill="#fff" stroke="#2f6cf0" stroke-width="1.2"/>
<path d="M438.9,103.8L443.9,98.8L448.9,103.8L443.9,108.8Z" fill="#fff" stroke="#2f6cf0" stroke-width="1.2"/>
<path d="M441.4,104.7L446.4,99.7L451.4,104.7L446.4,109.7Z" fill="#fff" stroke="#2f6cf0" stroke-width="1.2"/>
<path d="M443.9,105.2L448.9,100.2L453.9,105.2L448.9,110.2Z" fill="#fff" stroke="#2f6cf0" stroke-width="1.2"/>
<path d="M446.4,106.3L451.4,101.3L456.4,106.3L451.4,111.3Z" fill="#fff" stroke="#2f6cf0" stroke-width="1.2"/>
<path d="M448.9,107.0L453.9,102.0L458.9,107.0L453.9,112.0Z" fill="#fff" stroke="#2f6cf0" stroke-width="1.2"/>
<path d="M451.4,108.2L456.4,103.2L461.4,108.2L456.4,113.2Z" fill="#fff" stroke="#2f6cf0" stroke-width="1.2"/>
<path d="M453.9,109.6L458.9,104.6L463.9,109.6L458.9,114.6Z" fill="#fff" stroke="#2f6cf0" stroke-width="1.2"/>
<path d="M456.4,112.1L461.4,107.1L466.4,112.1L461.4,117.1Z" fill="#fff" stroke="#2f6cf0" stroke-width="1.2"/>
<path d="M458.9,112.4L463.9,107.4L468.9,112.4L463.9,117.4Z" fill="#fff" stroke="#2f6cf0" stroke-width="1.2"/>
<path d="M461.4,111.4L466.4,106.4L471.4,111.4L466.4,116.4Z" fill="#fff" stroke="#2f6cf0" stroke-width="1.2"/>
<path d="M465.0,115.0L470.0,110.0L475.0,115.0L470.0,120.0Z" fill="#fff" stroke="#2f6cf0" stroke-width="1.2"/>
<path d="M467.9,120.0L472.9,115.0L477.9,120.0L472.9,125.0Z" fill="#fff" stroke="#2f6cf0" stroke-width="1.2"/>
<path d="M470.7,122.9L475.7,117.9L480.7,122.9L475.7,127.9Z" fill="#fff" stroke="#2f6cf0" stroke-width="1.2"/>
<path d="M473.6,124.3L478.6,119.3L483.6,124.3L478.6,129.3Z" fill="#fff" stroke="#2f6cf0" stroke-width="1.2"/>
<path d="M476.4,125.7L481.4,120.7L486.4,125.7L481.4,130.7Z" fill="#fff" stroke="#2f6cf0" stroke-width="1.2"/>
<path d="M479.3,127.1L484.3,122.1L489.3,127.1L484.3,132.1Z" fill="#fff" stroke="#2f6cf0" stroke-width="1.2"/>
<path d="M482.1,128.6L487.1,123.6L492.1,128.6L487.1,133.6Z" fill="#fff" stroke="#2f6cf0" stroke-width="1.2"/>
<path d="M485.7,132.9L490.7,127.9L495.7,132.9L490.7,137.9Z" fill="#fff" stroke="#2f6cf0" stroke-width="1.2"/>
<path d="M488.6,140.0L493.6,135.0L498.6,140.0L493.6,145.0Z" fill="#fff" stroke="#2f6cf0" stroke-width="1.2"/>
<path d="M490.7,143.6L495.7,138.6L500.7,143.6L495.7,148.6Z" fill="#fff" stroke="#2f6cf0" stroke-width="1.2"/>
<path d="M493.6,147.9L498.6,142.9L503.6,147.9L498.6,152.9Z" fill="#fff" stroke="#2f6cf0" stroke-width="1.2"/>
<path d="M496.4,152.9L501.4,147.9L506.4,152.9L501.4,157.9Z" fill="#fff" stroke="#2f6cf0" stroke-width="1.2"/>
<path d="M500.2,159.0L505.2,154.0L510.2,159.0L505.2,164.0Z" fill="#fff" stroke="#2f6cf0" stroke-width="1.2"/>
<path d="M503.6,171.4L508.6,166.4L513.6,171.4L508.6,176.4Z" fill="#fff" stroke="#2f6cf0" stroke-width="1.2"/>
<path d="M507.0,178.6L512.0,173.6L517.0,178.6L512.0,183.6Z" fill="#fff" stroke="#2f6cf0" stroke-width="1.2"/>
<path d="M509.9,193.7L514.9,188.7L519.9,193.7L514.9,198.7Z" fill="#fff" stroke="#2f6cf0" stroke-width="1.2"/>
<path d="M512.5,210.1L517.5,205.1L522.5,210.1L517.5,215.1Z" fill="#fff" stroke="#2f6cf0" stroke-width="1.2"/>
<path d="M515.9,219.3L520.9,214.3L525.9,219.3L520.9,224.3Z" fill="#fff" stroke="#2f6cf0" stroke-width="1.2"/>
<path d="M518.5,240.7L523.5,235.7L528.5,240.7L523.5,245.7Z" fill="#fff" stroke="#2f6cf0" stroke-width="1.2"/>
<path d="M521.5,261.2L526.5,256.2L531.5,261.2L526.5,266.2Z" fill="#fff" stroke="#2f6cf0" stroke-width="1.2"/>
<path d="M524.3,278.2L529.3,273.2L534.3,278.2L529.3,283.2Z" fill="#fff" stroke="#2f6cf0" stroke-width="1.2"/>
<path d="M526.6,298.6L531.6,293.6L536.6,298.6L531.6,303.6Z" fill="#fff" stroke="#2f6cf0" stroke-width="1.2"/>
<path d="M529.4,309.0L534.4,304.0L539.4,309.0L534.4,314.0Z" fill="#fff" stroke="#2f6cf0" stroke-width="1.2"/>
<line x1="64.2" y1="72.6" x2="534.8" y2="79.5" stroke="#ff0000" stroke-width="2.2"/>
</g>
<rect x="74.5" y="90.5" width="279" height="200" fill="#fff" stroke="#c9c3bd" stroke-width="1"/>
<rect x="129.3" y="93.7" width="212.2" height="155.5" fill="#fce6d0"/>
<defs><clipPath id="ic"><rect x="129.3" y="93.7" width="212.2" height="155.5"/></clipPath></defs>
<g clip-path="url(#ic)">
<polyline fill="none" stroke="#c9c8f0" stroke-width="0.8" points="129.8,115.6 131.1,113.8 132.3,113.6 133.6,121.2 134.8,117.5 136.1,116.0 137.3,114.6 138.6,112.0 139.8,115.6 141.1,118.8 142.3,114.5 143.6,115.0 144.8,115.0 146.1,116.2 147.3,110.4 148.6,115.0 149.8,112.9 151.1,118.8 152.3,113.2 153.6,117.8 154.8,121.0 156.1,114.7 157.3,113.8 158.6,116.5 159.8,115.8 161.1,112.4 162.3,117.4 163.6,122.7 164.8,114.9 166.1,115.1 167.3,112.2 168.6,116.9 169.8,111.6 171.1,112.0 172.3,120.2 173.6,112.7 174.8,119.5 176.1,121.0 177.3,116.7 178.6,117.7 179.8,122.4 181.1,115.1 182.3,113.8 183.6,111.2 184.8,115.9 186.1,120.8 187.3,119.1 188.6,112.6 189.8,112.9 191.1,114.1 192.3,116.8 193.6,115.1 194.8,116.5 196.1,116.8 197.3,114.8 198.6,115.7 199.8,116.5 201.1,115.5 202.3,117.5 203.6,122.2 204.8,117.8 206.1,116.0 207.3,110.1 208.6,117.1 209.8,109.2 211.1,111.0 212.3,118.7 213.6,118.2 214.8,115.3 216.1,110.0 217.3,114.5 218.6,113.5 219.8,118.0 221.1,123.5 222.3,116.5 223.6,113.2 224.8,111.8 226.1,115.6 227.3,115.2 228.6,111.9 229.8,116.2 231.1,111.9 232.3,119.6 233.6,119.4 234.8,119.5 236.1,114.2 237.3,117.5 238.6,115.4 239.8,114.5 241.1,114.6 242.3,111.4 243.6,110.9 244.8,118.5 246.1,115.1 247.3,116.5 248.6,119.2 249.8,109.9 251.1,113.1 252.3,116.4 253.6,117.1 254.8,114.5 256.1,120.0 257.3,117.2 258.6,112.4 259.8,113.3 261.1,119.2 262.3,118.1 263.6,110.0 264.8,121.1 266.1,118.5 267.3,121.1 268.6,115.2 269.8,115.5 271.1,112.7 272.3,125.1 273.6,115.9 274.8,121.9 276.1,114.3 277.3,117.1 278.6,110.8 279.8,115.2 281.1,119.8 282.3,112.2 283.8,121.9 285.5,117.0 287.5,115.0 289.5,112.4 291.4,134.3 292.8,120.0 294.3,114.3 295.2,128.6 296.7,122.0 298.0,119.0 299.5,116.0 301.0,123.8 302.9,128.6 304.3,121.0 305.7,119.0 307.6,124.8 308.6,136.2 310.0,123.0 311.4,119.0 312.8,114.3 314.0,120.0 315.2,123.8 316.5,122.0 318.0,142.9 319.0,140.0 320.0,130.0 321.0,124.8 322.9,121.0 323.8,118.0 324.8,129.5 325.7,120.0 326.7,128.6 327.6,134.0 328.6,148.6 329.5,152.4 330.5,146.0 331.4,142.9 332.4,138.0 333.3,139.0 334.3,170.5 335.2,166.7 336.2,172.0 337.6,179.8 338.6,214.8 340.0,178.6 341.0,204.3"/>
<path d="M126.5,115.6L129.8,112.3L133.1,115.6L129.8,118.9Z" fill="#5a72f2"/>
<path d="M127.8,113.8L131.1,110.5L134.4,113.8L131.1,117.1Z" fill="#5a72f2"/>
<path d="M129.0,113.6L132.3,110.3L135.6,113.6L132.3,116.9Z" fill="#5a72f2"/>
<path d="M130.2,121.2L133.6,117.9L136.9,121.2L133.6,124.5Z" fill="#5a72f2"/>
<path d="M131.5,117.5L134.8,114.2L138.1,117.5L134.8,120.8Z" fill="#5a72f2"/>
<path d="M132.8,116.0L136.1,112.7L139.4,116.0L136.1,119.3Z" fill="#5a72f2"/>
<path d="M134.0,114.6L137.3,111.3L140.6,114.6L137.3,117.9Z" fill="#5a72f2"/>
<path d="M135.2,112.0L138.6,108.7L141.9,112.0L138.6,115.3Z" fill="#5a72f2"/>
<path d="M136.5,115.6L139.8,112.3L143.1,115.6L139.8,118.9Z" fill="#5a72f2"/>
<path d="M137.8,118.8L141.1,115.5L144.4,118.8L141.1,122.1Z" fill="#5a72f2"/>
<path d="M139.0,114.5L142.3,111.2L145.6,114.5L142.3,117.8Z" fill="#5a72f2"/>
<path d="M140.2,115.0L143.6,111.7L146.9,115.0L143.6,118.3Z" fill="#5a72f2"/>
<path d="M141.5,115.0L144.8,111.7L148.1,115.0L144.8,118.3Z" fill="#5a72f2"/>
<path d="M142.8,116.2L146.1,112.9L149.4,116.2L146.1,119.5Z" fill="#5a72f2"/>
<path d="M144.0,110.4L147.3,107.1L150.6,110.4L147.3,113.7Z" fill="#5a72f2"/>
<path d="M145.2,115.0L148.6,111.7L151.9,115.0L148.6,118.3Z" fill="#5a72f2"/>
<path d="M146.5,112.9L149.8,109.6L153.1,112.9L149.8,116.2Z" fill="#5a72f2"/>
<path d="M147.8,118.8L151.1,115.5L154.4,118.8L151.1,122.1Z" fill="#5a72f2"/>
<path d="M149.0,113.2L152.3,109.9L155.6,113.2L152.3,116.5Z" fill="#5a72f2"/>
<path d="M150.2,117.8L153.6,114.5L156.9,117.8L153.6,121.1Z" fill="#5a72f2"/>
<path d="M151.5,121.0L154.8,117.7L158.1,121.0L154.8,124.3Z" fill="#5a72f2"/>
<path d="M152.8,114.7L156.1,111.4L159.4,114.7L156.1,118.0Z" fill="#5a72f2"/>
<path d="M154.0,113.8L157.3,110.5L160.6,113.8L157.3,117.1Z" fill="#5a72f2"/>
<path d="M155.2,116.5L158.6,113.2L161.9,116.5L158.6,119.8Z" fill="#5a72f2"/>
<path d="M156.5,115.8L159.8,112.5L163.1,115.8L159.8,119.1Z" fill="#5a72f2"/>
<path d="M157.8,112.4L161.1,109.1L164.4,112.4L161.1,115.7Z" fill="#5a72f2"/>
<path d="M159.0,117.4L162.3,114.1L165.6,117.4L162.3,120.7Z" fill="#5a72f2"/>
<path d="M160.2,122.7L163.6,119.4L166.9,122.7L163.6,126.0Z" fill="#5a72f2"/>
<path d="M161.5,114.9L164.8,111.6L168.1,114.9L164.8,118.2Z" fill="#5a72f2"/>
<path d="M162.8,115.1L166.1,111.8L169.4,115.1L166.1,118.4Z" fill="#5a72f2"/>
<path d="M164.0,112.2L167.3,108.9L170.6,112.2L167.3,115.5Z" fill="#5a72f2"/>
<path d="M165.2,116.9L168.6,113.6L171.9,116.9L168.6,120.2Z" fill="#5a72f2"/>
<path d="M166.5,111.6L169.8,108.3L173.1,111.6L169.8,114.9Z" fill="#5a72f2"/>
<path d="M167.8,112.0L171.1,108.7L174.4,112.0L171.1,115.3Z" fill="#5a72f2"/>
<path d="M169.0,120.2L172.3,116.9L175.6,120.2L172.3,123.5Z" fill="#5a72f2"/>
<path d="M170.2,112.7L173.6,109.4L176.9,112.7L173.6,116.0Z" fill="#5a72f2"/>
<path d="M171.5,119.5L174.8,116.2L178.1,119.5L174.8,122.8Z" fill="#5a72f2"/>
<path d="M172.8,121.0L176.1,117.7L179.4,121.0L176.1,124.3Z" fill="#5a72f2"/>
<path d="M174.0,116.7L177.3,113.4L180.6,116.7L177.3,120.0Z" fill="#5a72f2"/>
<path d="M175.2,117.7L178.6,114.4L181.9,117.7L178.6,121.0Z" fill="#5a72f2"/>
<path d="M176.5,122.4L179.8,119.1L183.1,122.4L179.8,125.7Z" fill="#5a72f2"/>
<path d="M177.8,115.1L181.1,111.8L184.4,115.1L181.1,118.4Z" fill="#5a72f2"/>
<path d="M179.0,113.8L182.3,110.5L185.6,113.8L182.3,117.1Z" fill="#5a72f2"/>
<path d="M180.2,111.2L183.6,107.9L186.9,111.2L183.6,114.5Z" fill="#5a72f2"/>
<path d="M181.5,115.9L184.8,112.6L188.1,115.9L184.8,119.2Z" fill="#5a72f2"/>
<path d="M182.8,120.8L186.1,117.5L189.4,120.8L186.1,124.1Z" fill="#5a72f2"/>
<path d="M184.0,119.1L187.3,115.8L190.6,119.1L187.3,122.4Z" fill="#5a72f2"/>
<path d="M185.2,112.6L188.6,109.3L191.9,112.6L188.6,115.9Z" fill="#5a72f2"/>
<path d="M186.5,112.9L189.8,109.6L193.1,112.9L189.8,116.2Z" fill="#5a72f2"/>
<path d="M187.8,114.1L191.1,110.8L194.4,114.1L191.1,117.4Z" fill="#5a72f2"/>
<path d="M189.0,116.8L192.3,113.5L195.6,116.8L192.3,120.1Z" fill="#5a72f2"/>
<path d="M190.2,115.1L193.6,111.8L196.9,115.1L193.6,118.4Z" fill="#5a72f2"/>
<path d="M191.5,116.5L194.8,113.2L198.1,116.5L194.8,119.8Z" fill="#5a72f2"/>
<path d="M192.8,116.8L196.1,113.5L199.4,116.8L196.1,120.1Z" fill="#5a72f2"/>
<path d="M194.0,114.8L197.3,111.5L200.6,114.8L197.3,118.1Z" fill="#5a72f2"/>
<path d="M195.2,115.7L198.6,112.4L201.9,115.7L198.6,119.0Z" fill="#5a72f2"/>
<path d="M196.5,116.5L199.8,113.2L203.1,116.5L199.8,119.8Z" fill="#5a72f2"/>
<path d="M197.8,115.5L201.1,112.2L204.4,115.5L201.1,118.8Z" fill="#5a72f2"/>
<path d="M199.0,117.5L202.3,114.2L205.6,117.5L202.3,120.8Z" fill="#5a72f2"/>
<path d="M200.2,122.2L203.6,118.9L206.9,122.2L203.6,125.5Z" fill="#5a72f2"/>
<path d="M201.5,117.8L204.8,114.5L208.1,117.8L204.8,121.1Z" fill="#5a72f2"/>
<path d="M202.8,116.0L206.1,112.7L209.4,116.0L206.1,119.3Z" fill="#5a72f2"/>
<path d="M204.0,110.1L207.3,106.8L210.6,110.1L207.3,113.4Z" fill="#5a72f2"/>
<path d="M205.2,117.1L208.6,113.8L211.9,117.1L208.6,120.4Z" fill="#5a72f2"/>
<path d="M206.5,109.2L209.8,105.9L213.1,109.2L209.8,112.5Z" fill="#5a72f2"/>
<path d="M207.8,111.0L211.1,107.7L214.4,111.0L211.1,114.3Z" fill="#5a72f2"/>
<path d="M209.0,118.7L212.3,115.4L215.6,118.7L212.3,122.0Z" fill="#5a72f2"/>
<path d="M210.2,118.2L213.6,114.9L216.9,118.2L213.6,121.5Z" fill="#5a72f2"/>
<path d="M211.5,115.3L214.8,112.0L218.1,115.3L214.8,118.6Z" fill="#5a72f2"/>
<path d="M212.8,110.0L216.1,106.7L219.4,110.0L216.1,113.3Z" fill="#5a72f2"/>
<path d="M214.0,114.5L217.3,111.2L220.6,114.5L217.3,117.8Z" fill="#5a72f2"/>
<path d="M215.2,113.5L218.6,110.2L221.9,113.5L218.6,116.8Z" fill="#5a72f2"/>
<path d="M216.5,118.0L219.8,114.7L223.1,118.0L219.8,121.3Z" fill="#5a72f2"/>
<path d="M217.8,123.5L221.1,120.2L224.4,123.5L221.1,126.8Z" fill="#5a72f2"/>
<path d="M219.0,116.5L222.3,113.2L225.6,116.5L222.3,119.8Z" fill="#5a72f2"/>
<path d="M220.2,113.2L223.6,109.9L226.9,113.2L223.6,116.5Z" fill="#5a72f2"/>
<path d="M221.5,111.8L224.8,108.5L228.1,111.8L224.8,115.1Z" fill="#5a72f2"/>
<path d="M222.8,115.6L226.1,112.3L229.4,115.6L226.1,118.9Z" fill="#5a72f2"/>
<path d="M224.0,115.2L227.3,111.9L230.6,115.2L227.3,118.5Z" fill="#5a72f2"/>
<path d="M225.2,111.9L228.6,108.6L231.9,111.9L228.6,115.2Z" fill="#5a72f2"/>
<path d="M226.5,116.2L229.8,112.9L233.1,116.2L229.8,119.5Z" fill="#5a72f2"/>
<path d="M227.8,111.9L231.1,108.6L234.4,111.9L231.1,115.2Z" fill="#5a72f2"/>
<path d="M229.0,119.6L232.3,116.3L235.6,119.6L232.3,122.9Z" fill="#5a72f2"/>
<path d="M230.2,119.4L233.6,116.1L236.9,119.4L233.6,122.7Z" fill="#5a72f2"/>
<path d="M231.5,119.5L234.8,116.2L238.1,119.5L234.8,122.8Z" fill="#5a72f2"/>
<path d="M232.8,114.2L236.1,110.9L239.4,114.2L236.1,117.5Z" fill="#5a72f2"/>
<path d="M234.0,117.5L237.3,114.2L240.6,117.5L237.3,120.8Z" fill="#5a72f2"/>
<path d="M235.2,115.4L238.6,112.1L241.9,115.4L238.6,118.7Z" fill="#5a72f2"/>
<path d="M236.5,114.5L239.8,111.2L243.1,114.5L239.8,117.8Z" fill="#5a72f2"/>
<path d="M237.8,114.6L241.1,111.3L244.4,114.6L241.1,117.9Z" fill="#5a72f2"/>
<path d="M239.0,111.4L242.3,108.1L245.6,111.4L242.3,114.7Z" fill="#5a72f2"/>
<path d="M240.2,110.9L243.6,107.6L246.9,110.9L243.6,114.2Z" fill="#5a72f2"/>
<path d="M241.5,118.5L244.8,115.2L248.1,118.5L244.8,121.8Z" fill="#5a72f2"/>
<path d="M242.8,115.1L246.1,111.8L249.4,115.1L246.1,118.4Z" fill="#5a72f2"/>
<path d="M244.0,116.5L247.3,113.2L250.6,116.5L247.3,119.8Z" fill="#5a72f2"/>
<path d="M245.2,119.2L248.6,115.9L251.9,119.2L248.6,122.5Z" fill="#5a72f2"/>
<path d="M246.5,109.9L249.8,106.6L253.1,109.9L249.8,113.2Z" fill="#5a72f2"/>
<path d="M247.8,113.1L251.1,109.8L254.4,113.1L251.1,116.4Z" fill="#5a72f2"/>
<path d="M249.0,116.4L252.3,113.1L255.6,116.4L252.3,119.7Z" fill="#5a72f2"/>
<path d="M250.2,117.1L253.6,113.8L256.9,117.1L253.6,120.4Z" fill="#5a72f2"/>
<path d="M251.5,114.5L254.8,111.2L258.1,114.5L254.8,117.8Z" fill="#5a72f2"/>
<path d="M252.8,120.0L256.1,116.7L259.4,120.0L256.1,123.3Z" fill="#5a72f2"/>
<path d="M254.0,117.2L257.3,113.9L260.6,117.2L257.3,120.5Z" fill="#5a72f2"/>
<path d="M255.2,112.4L258.6,109.1L261.9,112.4L258.6,115.7Z" fill="#5a72f2"/>
<path d="M256.5,113.3L259.8,110.0L263.1,113.3L259.8,116.6Z" fill="#5a72f2"/>
<path d="M257.8,119.2L261.1,115.9L264.4,119.2L261.1,122.5Z" fill="#5a72f2"/>
<path d="M259.0,118.1L262.3,114.8L265.6,118.1L262.3,121.4Z" fill="#5a72f2"/>
<path d="M260.2,110.0L263.6,106.7L266.9,110.0L263.6,113.3Z" fill="#5a72f2"/>
<path d="M261.5,121.1L264.8,117.8L268.1,121.1L264.8,124.4Z" fill="#5a72f2"/>
<path d="M262.8,118.5L266.1,115.2L269.4,118.5L266.1,121.8Z" fill="#5a72f2"/>
<path d="M264.0,121.1L267.3,117.8L270.6,121.1L267.3,124.4Z" fill="#5a72f2"/>
<path d="M265.2,115.2L268.6,111.9L271.9,115.2L268.6,118.5Z" fill="#5a72f2"/>
<path d="M266.5,115.5L269.8,112.2L273.1,115.5L269.8,118.8Z" fill="#5a72f2"/>
<path d="M267.8,112.7L271.1,109.4L274.4,112.7L271.1,116.0Z" fill="#5a72f2"/>
<path d="M269.0,125.1L272.3,121.8L275.6,125.1L272.3,128.4Z" fill="#5a72f2"/>
<path d="M270.2,115.9L273.6,112.6L276.9,115.9L273.6,119.2Z" fill="#5a72f2"/>
<path d="M271.5,121.9L274.8,118.6L278.1,121.9L274.8,125.2Z" fill="#5a72f2"/>
<path d="M272.8,114.3L276.1,111.0L279.4,114.3L276.1,117.6Z" fill="#5a72f2"/>
<path d="M274.0,117.1L277.3,113.8L280.6,117.1L277.3,120.4Z" fill="#5a72f2"/>
<path d="M275.2,110.8L278.6,107.5L281.9,110.8L278.6,114.1Z" fill="#5a72f2"/>
<path d="M276.5,115.2L279.8,111.9L283.1,115.2L279.8,118.5Z" fill="#5a72f2"/>
<path d="M277.8,119.8L281.1,116.5L284.4,119.8L281.1,123.1Z" fill="#5a72f2"/>
<path d="M279.0,112.2L282.3,108.9L285.6,112.2L282.3,115.5Z" fill="#5a72f2"/>
<path d="M280.5,121.9L283.8,118.6L287.1,121.9L283.8,125.2Z" fill="#5a72f2"/>
<path d="M282.2,117.0L285.5,113.7L288.8,117.0L285.5,120.3Z" fill="#5a72f2"/>
<path d="M284.2,115.0L287.5,111.7L290.8,115.0L287.5,118.3Z" fill="#5a72f2"/>
<path d="M286.2,112.4L289.5,109.1L292.8,112.4L289.5,115.7Z" fill="#5a72f2"/>
<path d="M288.1,134.3L291.4,131.0L294.7,134.3L291.4,137.6Z" fill="#5a72f2"/>
<path d="M289.5,120.0L292.8,116.7L296.1,120.0L292.8,123.3Z" fill="#5a72f2"/>
<path d="M291.0,114.3L294.3,111.0L297.6,114.3L294.3,117.6Z" fill="#5a72f2"/>
<path d="M291.9,128.6L295.2,125.3L298.5,128.6L295.2,131.9Z" fill="#5a72f2"/>
<path d="M293.4,122.0L296.7,118.7L300.0,122.0L296.7,125.3Z" fill="#5a72f2"/>
<path d="M294.7,119.0L298.0,115.7L301.3,119.0L298.0,122.3Z" fill="#5a72f2"/>
<path d="M296.2,116.0L299.5,112.7L302.8,116.0L299.5,119.3Z" fill="#5a72f2"/>
<path d="M297.7,123.8L301.0,120.5L304.3,123.8L301.0,127.1Z" fill="#5a72f2"/>
<path d="M299.6,128.6L302.9,125.3L306.2,128.6L302.9,131.9Z" fill="#5a72f2"/>
<path d="M301.0,121.0L304.3,117.7L307.6,121.0L304.3,124.3Z" fill="#5a72f2"/>
<path d="M302.4,119.0L305.7,115.7L309.0,119.0L305.7,122.3Z" fill="#5a72f2"/>
<path d="M304.3,124.8L307.6,121.5L310.9,124.8L307.6,128.1Z" fill="#5a72f2"/>
<path d="M305.3,136.2L308.6,132.9L311.9,136.2L308.6,139.5Z" fill="#5a72f2"/>
<path d="M306.7,123.0L310.0,119.7L313.3,123.0L310.0,126.3Z" fill="#5a72f2"/>
<path d="M308.1,119.0L311.4,115.7L314.7,119.0L311.4,122.3Z" fill="#5a72f2"/>
<path d="M309.5,114.3L312.8,111.0L316.1,114.3L312.8,117.6Z" fill="#5a72f2"/>
<path d="M310.7,120.0L314.0,116.7L317.3,120.0L314.0,123.3Z" fill="#5a72f2"/>
<path d="M311.9,123.8L315.2,120.5L318.5,123.8L315.2,127.1Z" fill="#5a72f2"/>
<path d="M313.2,122.0L316.5,118.7L319.8,122.0L316.5,125.3Z" fill="#5a72f2"/>
<path d="M314.7,142.9L318.0,139.6L321.3,142.9L318.0,146.2Z" fill="#5a72f2"/>
<path d="M315.7,140.0L319.0,136.7L322.3,140.0L319.0,143.3Z" fill="#5a72f2"/>
<path d="M316.7,130.0L320.0,126.7L323.3,130.0L320.0,133.3Z" fill="#5a72f2"/>
<path d="M317.7,124.8L321.0,121.5L324.3,124.8L321.0,128.1Z" fill="#5a72f2"/>
<path d="M319.6,121.0L322.9,117.7L326.2,121.0L322.9,124.3Z" fill="#5a72f2"/>
<path d="M320.5,118.0L323.8,114.7L327.1,118.0L323.8,121.3Z" fill="#5a72f2"/>
<path d="M321.5,129.5L324.8,126.2L328.1,129.5L324.8,132.8Z" fill="#5a72f2"/>
<path d="M322.4,120.0L325.7,116.7L329.0,120.0L325.7,123.3Z" fill="#5a72f2"/>
<path d="M323.4,128.6L326.7,125.3L330.0,128.6L326.7,131.9Z" fill="#5a72f2"/>
<path d="M324.3,134.0L327.6,130.7L330.9,134.0L327.6,137.3Z" fill="#5a72f2"/>
<path d="M325.3,148.6L328.6,145.3L331.9,148.6L328.6,151.9Z" fill="#5a72f2"/>
<path d="M326.2,152.4L329.5,149.1L332.8,152.4L329.5,155.7Z" fill="#5a72f2"/>
<path d="M327.2,146.0L330.5,142.7L333.8,146.0L330.5,149.3Z" fill="#5a72f2"/>
<path d="M328.1,142.9L331.4,139.6L334.7,142.9L331.4,146.2Z" fill="#5a72f2"/>
<path d="M329.1,138.0L332.4,134.7L335.7,138.0L332.4,141.3Z" fill="#5a72f2"/>
<path d="M330.0,139.0L333.3,135.7L336.6,139.0L333.3,142.3Z" fill="#5a72f2"/>
<path d="M331.0,170.5L334.3,167.2L337.6,170.5L334.3,173.8Z" fill="#5a72f2"/>
<path d="M331.9,166.7L335.2,163.4L338.5,166.7L335.2,170.0Z" fill="#5a72f2"/>
<path d="M332.9,172.0L336.2,168.7L339.5,172.0L336.2,175.3Z" fill="#5a72f2"/>
<path d="M334.3,179.8L337.6,176.5L340.9,179.8L337.6,183.1Z" fill="#5a72f2"/>
<path d="M335.3,214.8L338.6,211.5L341.9,214.8L338.6,218.1Z" fill="#5a72f2"/>
<path d="M336.7,178.6L340.0,175.3L343.3,178.6L340.0,181.9Z" fill="#5a72f2"/>
<path d="M337.7,204.3L341.0,201.0L344.3,204.3L341.0,207.6Z" fill="#5a72f2"/>
<line x1="129.3" y1="115.9" x2="341.5" y2="115.9" stroke="#111" stroke-width="1.1"/>
</g>
<rect x="129.3" y="93.7" width="212.2" height="155.5" fill="none" stroke="#222" stroke-width="1.4"/>
<path d="M135.5,249.2v-2.5 M148.0,249.2v-2.5 M160.5,249.2v-4 M173.0,249.2v-2.5 M185.5,249.2v-2.5 M198.0,249.2v-2.5 M210.4,249.2v-2.5 M222.9,249.2v-4 M235.4,249.2v-2.5 M247.9,249.2v-2.5 M260.4,249.2v-2.5 M272.8,249.2v-2.5 M285.3,249.2v-4 M297.8,249.2v-2.5 M310.3,249.2v-2.5 M322.8,249.2v-2.5 M335.3,249.2v-2.5 M129.3,100.0h2.5 M129.3,115.9h4 M129.3,131.8h2.5 M129.3,147.6h4 M129.3,163.5h2.5 M129.3,179.4h4 M129.3,195.3h2.5 M129.3,211.1h4 M129.3,227.0h2.5 M129.3,242.9h4" stroke="#222" stroke-width="1.1" fill="none"/>
<text class="t" x="123.2" y="120.3" text-anchor="end" style="font-size:12.5px">0</text><text class="t" x="123.2" y="152.0" text-anchor="end" style="font-size:12.5px">-10</text><text class="t" x="123.2" y="183.8" text-anchor="end" style="font-size:12.5px">-20</text><text class="t" x="123.2" y="215.5" text-anchor="end" style="font-size:12.5px">-30</text><text class="t" x="123.2" y="247.3" text-anchor="end" style="font-size:12.5px">-40</text><text class="t" x="160.5" y="264.6" text-anchor="middle" style="font-size:12.5px">400</text><text class="t" x="222.9" y="264.6" text-anchor="middle" style="font-size:12.5px">500</text><text class="t" x="285.3" y="264.6" text-anchor="middle" style="font-size:12.5px">600</text><text class="t" x="184.3" y="283.0" textLength="100.3" lengthAdjust="spacing" style="font-size:13.8px">temperature (K)</text><text class="t" transform="translate(98.4,217.6) rotate(-90)" x="0" y="0" textLength="92" lengthAdjust="spacing" style="font-size:14px">d<tspan dy="-5.5" style="font-size:9.5px">2</tspan><tspan dy="5.5">g/dT</tspan><tspan dy="-5.5" style="font-size:9.5px">2</tspan><tspan dy="5.5"> (µK</tspan><tspan dy="-5.5" style="font-size:9.5px">-2</tspan><tspan dy="5.5">)</tspan></text><rect x="151.5" y="207.5" width="121.5" height="21.2" fill="#fff" stroke="#a09a96" stroke-width="1"/><line x1="153" y1="217.6" x2="182" y2="217.6" stroke="#b4b8f6" stroke-width="0.9"/><path d="M163.8,217.6L167.2,214.2L170.6,217.6L167.2,221Z" fill="#5a6ef5"/><text class="t" x="185" y="221.8" textLength="85.5" lengthAdjust="spacing" style="font-size:12.5px">run 2;  ε<tspan dy="3" style="font-size:8.8px">pl</tspan><tspan dy="-3">= 20%</tspan></text>
<path d="M77.6,362.0v-3.5 M91.1,362.0v-3.5 M104.5,362.0v-3.5 M118.0,362.0v-3.5 M131.4,362.0v-6 M144.9,362.0v-3.5 M158.3,362.0v-3.5 M171.8,362.0v-3.5 M185.2,362.0v-3.5 M198.7,362.0v-6 M212.2,362.0v-3.5 M225.6,362.0v-3.5 M239.1,362.0v-3.5 M252.5,362.0v-3.5 M266.0,362.0v-6 M279.4,362.0v-3.5 M292.9,362.0v-3.5 M306.3,362.0v-3.5 M319.8,362.0v-3.5 M333.2,362.0v-6 M346.7,362.0v-3.5 M360.2,362.0v-3.5 M373.6,362.0v-3.5 M387.1,362.0v-3.5 M400.5,362.0v-6 M414.0,362.0v-3.5 M427.4,362.0v-3.5 M440.9,362.0v-3.5 M454.3,362.0v-3.5 M467.8,362.0v-6 M481.3,362.0v-3.5 M494.7,362.0v-3.5 M508.2,362.0v-3.5 M521.6,362.0v-3.5 M64.2,36.6h3.5 M64.2,61.6h3.5 M64.2,86.7h6 M64.2,111.8h3.5 M64.2,136.8h3.5 M64.2,161.9h6 M64.2,187.0h3.5 M64.2,212.1h3.5 M64.2,237.1h6 M64.2,262.2h3.5 M64.2,287.3h3.5 M64.2,312.3h6 M64.2,337.4h3.5" stroke="#000" stroke-width="1.4" fill="none"/>
<rect x="74.5" y="292.5" width="150.5" height="68" fill="#fff" stroke="#3a3a3a" stroke-width="1"/><line x1="79.5" y1="304.8" x2="113" y2="304.8" stroke="#ff5050" stroke-width="1.2"/><circle cx="96" cy="304.8" r="3.9" fill="#fff" stroke="#ff0000" stroke-width="1.2"/><line x1="79.5" y1="327.8" x2="113" y2="327.8" stroke="#5a8cf0" stroke-width="1.2"/><path d="M91.1,327.8L96.2,322.7L101.3,327.8L96.2,332.9Z" fill="#fff" stroke="#2f6cf0" stroke-width="1.2"/><line x1="79.3" y1="349" x2="113.2" y2="349" stroke="#ff0000" stroke-width="2.2"/><text class="t" x="117.1" y="309.8" textLength="101.3" lengthAdjust="spacing" style="font-size:14.3px">run 1;  ε<tspan dy="4" style="font-size:9.8px">pl</tspan><tspan dy="-4">= 20%</tspan></text><text class="t" x="117.1" y="332.2" textLength="101.3" lengthAdjust="spacing" style="font-size:14.3px">run 2;  ε<tspan dy="4" style="font-size:9.8px">pl</tspan><tspan dy="-4">= 20%</tspan></text><text class="t" x="116.8" y="353.5" textLength="58.6" lengthAdjust="spacing" style="font-size:14.3px">dg<tspan dy="4.2" style="font-size:9.8px">norel</tspan><tspan dy="-4.2">/dT</tspan></text><rect x="384.5" y="259.5" width="121" height="29.5" fill="#fff" stroke="#333" stroke-width="1"/><text class="t" x="389.4" y="278.2" textLength="112.6" lengthAdjust="spacing" style="font-size:16.2px">Zr<tspan dy="5.3" style="font-size:11.3px">46</tspan><tspan dy="-5.3">Cu</tspan><tspan dy="5.3" style="font-size:11.3px">45</tspan><tspan dy="-5.3">Al</tspan><tspan dy="5.3" style="font-size:11.3px">7</tspan><tspan dy="-5.3">Ti</tspan><tspan dy="5.3" style="font-size:11.3px">2</tspan></text><rect x="446.5" y="322.5" width="76" height="27.5" fill="#fff" stroke="#333" stroke-width="1"/><text class="t" x="453.6" y="341.8" textLength="59" lengthAdjust="spacing" style="font-size:16.5px">3 K/min</text>
<rect x="64.2" y="12" width="470.6" height="350" fill="none" stroke="#000" stroke-width="1.8"/>
<line x1="198.5" y1="24" x2="198.5" y2="45" stroke="#000" stroke-width="1.4"/><path d="M193.4,40.2 Q198.5,42.6 203.6,40.2 L198.4,58.8 Z" fill="#000"/><line x1="502.5" y1="16" x2="502.5" y2="37" stroke="#000" stroke-width="1.4"/><path d="M497.6,32.6 Q502.5,35.2 507.6,32.6 L502.3,51 Z" fill="#000"/><text class="s" x="203.5" y="33" style="font-size:24.5px">T</text><text class="s" x="217" y="39.6" style="font-size:16.3px">sr</text><text class="s" x="510.5" y="35.7" style="font-size:24.5px">T</text><text class="s" x="523.6" y="42.3" style="font-size:15.5px">g</text>
<text class="t" x="55.8" y="16.5" text-anchor="end" style="font-size:16.3px">0.0</text><text class="t" x="55.8" y="91.7" text-anchor="end" style="font-size:16.3px">-0.3</text><text class="t" x="55.8" y="166.9" text-anchor="end" style="font-size:16.3px">-0.6</text><text class="t" x="55.8" y="242.1" text-anchor="end" style="font-size:16.3px">-0.9</text><text class="t" x="55.8" y="317.3" text-anchor="end" style="font-size:16.3px">-1.2</text><text class="t" x="64.4" y="382.6" text-anchor="middle" style="font-size:16.5px">350</text><text class="t" x="131.6" y="382.6" text-anchor="middle" style="font-size:16.5px">400</text><text class="t" x="198.9" y="382.6" text-anchor="middle" style="font-size:16.5px">450</text><text class="t" x="266.2" y="382.6" text-anchor="middle" style="font-size:16.5px">500</text><text class="t" x="333.4" y="382.6" text-anchor="middle" style="font-size:16.5px">550</text><text class="t" x="400.7" y="382.6" text-anchor="middle" style="font-size:16.5px">600</text><text class="t" x="468.0" y="382.6" text-anchor="middle" style="font-size:16.5px">650</text><text class="t" x="535.3" y="382.6" text-anchor="middle" style="font-size:16.5px">700</text><text class="t" x="237.4" y="411" textLength="123.2" lengthAdjust="spacing" style="font-size:17.2px">temperature (K)</text><text class="t" transform="translate(20.7,236.3) rotate(-90)" x="0" y="0" textLength="99.4" lengthAdjust="spacing" style="font-size:16.5px">dg/dT (mK<tspan dy="-6.5" style="font-size:11px">-1</tspan><tspan dy="6.5">)</tspan></text>
</svg>
</body></html>
